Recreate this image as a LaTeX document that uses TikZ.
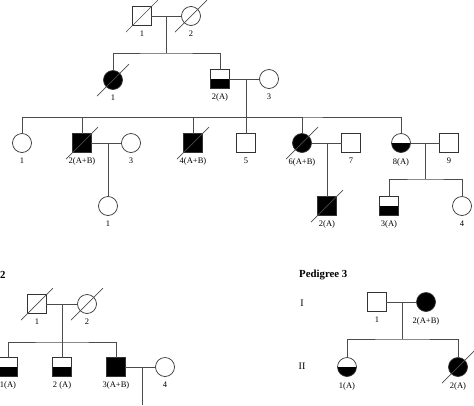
\documentclass[tikz,border=0pt]{standalone}
\usepackage{fontspec}
\setmainfont{Liberation Serif}
\usetikzlibrary{calc}
\newcommand{\deadslash}[1]{\draw[ln] ($(#1)+(-16,16)$) -- ($(#1)+(16,-16)$);}
\begin{document}
\begin{tikzpicture}[x=1pt,y=-1pt,
  ln/.style={draw=black!70, line width=0.7pt},
  base/.style={draw=black!80, line width=0.7pt, inner sep=0pt, outer sep=0pt},
  sq/.style={base, rectangle, minimum size=18.5pt},
  ci/.style={base, circle, minimum size=19pt},
  aff/.style={fill=black},
  half/.style={path picture={\fill[black] (path picture bounding box.west) rectangle (path picture bounding box.south east);}},
  lbl/.style={inner sep=0.5pt, yshift=-5pt, font=\fontsize{8.5}{10}\selectfont},
  ttl/.style={inner sep=0pt, font=\fontsize{10.8}{12}\selectfont\bfseries},
  gen/.style={inner sep=0pt, font=\fontsize{10}{12}\selectfont}
]
\useasboundingbox (0,0) rectangle (474,405);

% ===== Pedigree 1 =====
\node[sq] (aI1) at (142,16) [label={[lbl]below:1}] {};
\node[ci] (aI2) at (191,16) [label={[lbl]below:2}] {};
\deadslash{aI1}
\deadslash{aI2}
\draw[ln] (aI1) -- (aI2);
\coordinate (am1) at (166,16);
\coordinate (as1) at (166,53);
\draw[ln] (am1) -- (as1);

\node[ci,aff] (aII1) at (113,80) [label={[lbl]below:1}] {};
\node[sq,half] (aII2) at (220,79) [label={[lbl]below:2(A)}] {};
\node[ci] (aII3) at (269,79) [label={[lbl]below:3}] {};
\deadslash{aII1}
\draw[ln] (aII1) |- (as1) -| (aII2);
\draw[ln] (aII2) -- (aII3);
\coordinate (am2) at (246,79);
\coordinate (as2) at (246,117);
\draw[ln] (am2) -- (as2);

\node[ci] (aIII1) at (22,143) [label={[lbl]below:1}] {};
\node[sq,aff] (aIII2) at (82,143) [label={[lbl]below:2(A+B)}] {};
\node[ci] (aIII3) at (131,143) [label={[lbl]below:3}] {};
\node[sq,aff] (aIII4) at (193,143) [label={[lbl]below:4(A+B)}] {};
\node[sq] (aIII5) at (246,143) [label={[lbl]below:5}] {};
\node[ci,aff] (aIII6) at (302,143) [label={[lbl]below:6(A+B)}] {};
\node[sq] (aIII7) at (351,143) [label={[lbl]below:7}] {};
\node[ci,half] (aIII8) at (401,143) [label={[lbl]below:8(A)}] {};
\node[sq] (aIII9) at (449,143) [label={[lbl]below:9}] {};
\deadslash{aIII2}
\deadslash{aIII4}
\deadslash{aIII6}
\draw[ln] (aIII1) |- (as2) -| (aIII8);
\draw[ln] (aIII2) |- (as2);
\draw[ln] (aIII4) |- (as2);
\draw[ln] (aIII5) -- (as2);
\draw[ln] (aIII6) |- (as2);
\draw[ln] (aIII2) -- (aIII3);
\draw[ln] (aIII6) -- (aIII7);
\draw[ln] (aIII8) -- (aIII9);

\coordinate (am3) at (108,143);
\coordinate (am4) at (327,143);
\coordinate (am5) at (425,143);
\coordinate (as5) at (425,179);

\node[ci] (aIV1) at (108,206) [label={[lbl]below:1}] {};
\node[sq,aff] (aIV2) at (327,206) [label={[lbl]below:2(A)}] {};
\node[sq,half] (aIV3) at (389,206) [label={[lbl]below:3(A)}] {};
\node[ci] (aIV4) at (462,206) [label={[lbl]below:4}] {};
\deadslash{aIV2}
\draw[ln] (am3) -- (aIV1);
\draw[ln] (am4) -- (aIV2);
\draw[ln] (am5) -- (as5);
\draw[ln] (aIV3) |- (as5) -| (aIV4);

% ===== Pedigree 2 (cut off) =====
\node[ttl, anchor=west] (bT) at (0,275) {2};
\node[sq] (bI1) at (37,304) [label={[lbl]below:1}] {};
\node[ci] (bI2) at (87,304) [label={[lbl]below:2}] {};
\deadslash{bI1}
\deadslash{bI2}
\draw[ln] (bI1) -- (bI2);
\coordinate (bm1) at (62,304);
\coordinate (bs1) at (62,342);
\draw[ln] (bm1) -- (bs1);
\node[sq,half] (bII1) at (8,367) [label={[lbl]below:1(A)}] {};
\node[sq,half] (bII2) at (62,367) [label={[lbl]below:2 (A)}] {};
\node[sq,aff] (bII3) at (116,367) [label={[lbl]below:3(A+B)}] {};
\node[ci] (bII4) at (165,367) [label={[lbl]below:4}] {};
\draw[ln] (bII1) |- (bs1) -| (bII3);
\draw[ln] (bII2) -- (bs1);
\draw[ln] (bII3) -- (bII4);
\coordinate (bm2) at (142,367);
\coordinate (bs2) at (142,405);
\draw[ln] (bm2) -- (bs2);

% ===== Pedigree 3 =====
\node[ttl, anchor=west] (cT) at (299,275) {Pedigree 3};
\node[gen] (cG1) at (302,303) {I};
\node[gen] (cG2) at (302,366) {II};
\node[sq] (cI1) at (377,302) [label={[lbl]below:1}] {};
\node[ci,aff] (cI2) at (426,302) [label={[lbl]below:2(A+B)}] {};
\draw[ln] (cI1) -- (cI2);
\coordinate (cm1) at (402,302);
\coordinate (cs1) at (402,339);
\draw[ln] (cm1) -- (cs1);
\node[ci,half] (cII1) at (347,367) [label={[lbl]below:1(A)}] {};
\node[ci,aff] (cII2) at (458,367) [label={[lbl]below:2(A)}] {};
\deadslash{cII2}
\draw[ln] (cII1) |- (cs1) -| (cII2);
\end{tikzpicture}
\end{document}
